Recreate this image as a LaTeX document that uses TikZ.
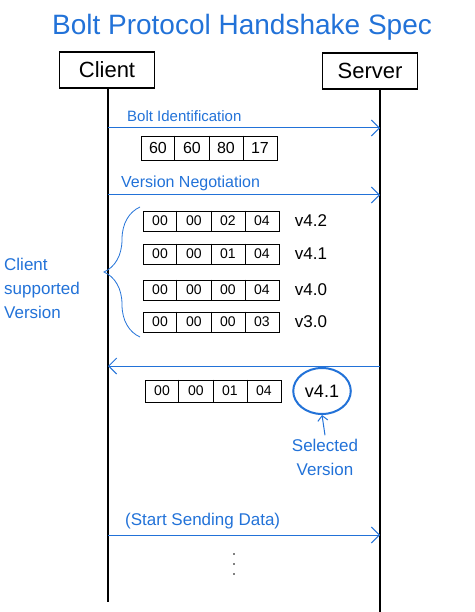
\documentclass[tikz,border=0pt]{standalone}
\usepackage{fontspec}
\setmainfont{Liberation Sans}
\usetikzlibrary{shapes,arrows.meta,positioning,calc,decorations.pathreplacing}
\definecolor{pen}{HTML}{2272D8}
\newcommand{\bytecells}[4]{\makebox[34pt]{#1}\makebox[34pt]{#2}\makebox[34pt]{#3}\makebox[34pt]{#4}}

\begin{document}
\begin{tikzpicture}[x=1pt, y=-1pt,
  actor/.style={rectangle, draw, line width=1.8pt, minimum width=95pt, minimum height=36pt, font=\fontsize{22}{24}\selectfont},
  life/.style={line width=1.8pt},
  msg/.style={-{Straight Barb[length=8pt,width=16pt]}, line width=1pt, pen},
  lbl/.style={pen, font=\fontsize{15}{17}\selectfont, anchor=south west, inner sep=1pt},
  bytes/.style={rectangle, draw, thick, inner sep=0pt, minimum width=136pt, minimum height=20pt, font=\fontsize{14}{16}\selectfont},
  ver/.style={anchor=west, font=\fontsize{17}{19}\selectfont},
  note/.style={pen, align=left, font=\fontsize{17}{24}\selectfont}
]
  \useasboundingbox (0,0) rectangle (474,612);
  \node[pen, font=\fontsize{28}{32}\selectfont] (title) at (242,27) {Bolt Protocol Handshake Spec};
  \node[actor] (client) at (107,70) {Client};
  \node[actor] (server) at (370,71) {Server};
  % lifelines
  \coordinate (cend) at (108,602);
  \coordinate (send) at (380,612);
  \draw[life] (client.south -| cend) -- (cend);
  \draw[life] (server.south -| send) -- (send);
  % bolt identification
  \coordinate (c1) at (108,128);
  \coordinate (s1) at (380,128);
  \draw[msg] (c1) -- (s1);
  \node[lbl] (l1) at (126,123) {Bolt Identification};
  \node[bytes, minimum height=24pt, font=\fontsize{16}{18}\selectfont] (magic) at (209,148) {\bytecells{60}{60}{80}{17}};
  % version negotiation
  \coordinate (c2) at (108,195);
  \coordinate (s2) at (380,195);
  \draw[msg] (c2) -- (s2);
  \node[lbl, font=\fontsize{16}{18}\selectfont] (l2) at (120,192) {Version Negotiation};
  \node[bytes] (v42) at (211,221) {\bytecells{00}{00}{02}{04}};
  \node[bytes] (v41) at (211,254) {\bytecells{00}{00}{01}{04}};
  \node[bytes] (v40) at (211,290) {\bytecells{00}{00}{00}{04}};
  \node[bytes] (v30) at (211,322) {\bytecells{00}{00}{00}{03}};
  \foreach \n/\t in {v42/v4.2, v41/v4.1, v40/v4.0, v30/v3.0}
    \node[ver] (\n t) at ($(\n.east)+(12,0)$) {\t};
  \draw[pen, thick, decorate, decoration={brace, amplitude=36pt}] (140,337) -- (140,207);
  \node[note] (supp) at (42,288) {Client\\supported\\Version};
  % server reply
  \coordinate (c3) at (108,366);
  \coordinate (s3) at (380,366);
  \draw[msg] (s3) -- (c3);
  \node[bytes, minimum height=22pt] (resp) at (213,391) {\bytecells{00}{00}{01}{04}};
  \foreach \n in {magic, v42, v41, v40, v30, resp}
    \foreach \k in {1,2,3}
      \draw[thick] ($(\n.north west)!\k/4!(\n.north east)$) -- ($(\n.south west)!\k/4!(\n.south east)$);
  \node[ellipse, draw=pen, line width=2pt, minimum width=54pt, minimum height=46pt, font=\fontsize{18}{20}\selectfont] (sel) at (322,391) {v4.1};
  \node[note, align=center] (seltxt) at (325,457) {Selected\\Version};
  \draw[msg, -{Straight Barb[length=5pt,width=10pt]}] (seltxt.north) -- (sel.south);
  % data
  \coordinate (c4) at (108,535);
  \coordinate (s4) at (380,535);
  \draw[msg] (c4) -- (s4);
  \node[lbl, font=\fontsize{17}{19}\selectfont] (l4) at (124,530) {(Start Sending Data)};
  \foreach \y in {554,564,574} \fill (234,\y) circle (0.8pt);
\end{tikzpicture}
\end{document}
